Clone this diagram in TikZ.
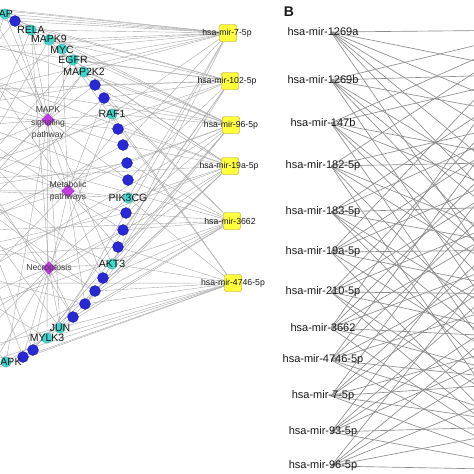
\documentclass[tikz,border=0pt]{standalone}
\usepackage{fontspec}
\setmainfont{Liberation Sans}
\usetikzlibrary{shapes.geometric}
\pgfdeclarelayer{bg}
\pgfsetlayers{bg,main}
\definecolor{nblue}{RGB}{40,40,215}
\definecolor{ncyan}{RGB}{64,214,206}
\definecolor{npurp}{RGB}{190,60,225}
\definecolor{nyell}{RGB}{255,255,60}
\definecolor{ybor}{RGB}{170,150,20}
\definecolor{ecolA}{RGB}{170,170,170}
\definecolor{ecolB}{RGB}{140,140,140}
\definecolor{txt}{RGB}{25,25,25}
\begin{document}
\begin{tikzpicture}[x=1pt,y=-1pt,
  bnode/.style={circle,fill=nblue,draw=nblue!70!black,line width=0.3pt,minimum size=11pt,inner sep=0pt},
  cnode/.style={circle,fill=ncyan,draw=ncyan!80!black,line width=0.3pt,minimum size=10.5pt,inner sep=0pt},
  pnode/.style={diamond,fill=npurp,draw=npurp!80!black,line width=0.3pt,minimum size=13pt,inner sep=0pt},
  ynode/.style={rectangle,rounded corners=2pt,fill=nyell,draw=ybor,line width=0.4pt,minimum size=17pt,inner sep=0pt},
  bsrc/.style={inner sep=0pt,minimum size=0pt},
  glbl/.style={font=\fontsize{10.5}{10.5}\selectfont,text=txt,inner sep=0pt},
  mlbl/.style={font=\fontsize{8.7}{8.7}\selectfont,text=txt,inner sep=0pt},
  plbl/.style={font=\fontsize{8.6}{12.3}\selectfont,text=txt!85!white,inner sep=0pt,align=center},
  blbl/.style={font=\fontsize{11}{11}\selectfont,text=txt,inner sep=0pt},
  ea/.style={draw=ecolA,line width=0.4pt},
  eb/.style={draw=ecolB,line width=0.65pt}]
\clip (0,0) rectangle (474,474);
% ---------- panel A: gene arc ----------
\node[cnode,label={[glbl,xshift=1pt]center:AP}] (g1) at (5,14) {};
\node[bnode] (g2) at (15,21) {};
\node[cnode,label={[glbl]center:RELA}] (g3) at (31,30) {};
\node[cnode,label={[glbl,yshift=1pt]center:MAPK9}] (g4) at (49,40) {};
\node[cnode,label={[glbl,yshift=-0.5pt]center:MYC}] (g5) at (62,49) {};
\node[cnode,label={[glbl]center:EGFR}] (g6) at (73,60) {};
\node[cnode,label={[glbl]center:MAP2K2}] (g7) at (84,72) {};
\node[bnode] (g8) at (95,85) {};
\node[bnode] (g9) at (104,98) {};
\node[cnode,label={[glbl]center:RAF1}] (g10) at (112,114) {};
\node[bnode] (g11) at (118,129) {};
\node[bnode] (g12) at (123,145) {};
\node[bnode] (g13) at (127,163) {};
\node[bnode] (g14) at (128,180) {};
\node[cnode,label={[glbl]center:PIK3CG}] (g15) at (128,198) {};
\node[bnode] (g16) at (126,213) {};
\node[bnode] (g17) at (123,230) {};
\node[bnode] (g18) at (118,247) {};
\node[cnode,label={[glbl]center:AKT3}] (g19) at (112,264) {};
\node[bnode] (g20) at (103,278) {};
\node[bnode] (g21) at (95,291) {};
\node[bnode] (g22) at (85,304) {};
\node[bnode] (g23) at (73,317) {};
\node[cnode,label={[glbl]center:JUN}] (g24) at (60,328) {};
\node[cnode,label={[glbl]center:MYLK3}] (g25) at (47,338) {};
\node[bnode] (g26) at (33,350) {};
\node[bnode] (g27) at (23,357) {};
\node[cnode,label={[glbl,xshift=5pt]center:APK}] (g28) at (6,362) {};
% off-picture genes of the circle and pathways
\foreach \i [evaluate=\i as \a using 60+15*\i] in {1,...,15}
  \coordinate (o\i) at ({-59+187*cos(\a)},{190+187*sin(\a)});
\coordinate (q1) at (-60,110);
\coordinate (q2) at (-80,260);
\coordinate (q3) at (-40,190);
% pathways
\node[pnode,label={[plbl,yshift=-3pt]center:{MAPK\\signaling\\pathway}}] (p1) at (48,120) {};
\node[pnode,label={[plbl]center:{Metabolic\\pathways}}] (p2) at (68,191) {};
\node[pnode,label={[plbl]center:Necroptosis}] (p3) at (49,268) {};
% miRNAs
\node[ynode,label={[mlbl,xshift=-1pt]center:hsa-mir-7-5p}] (m1) at (228,33) {};
\node[ynode,label={[mlbl,xshift=-3pt]center:hsa-mir-102-5p}] (m2) at (230,81) {};
\node[ynode,label={[mlbl]center:hsa-mir-96-5p}] (m3) at (231,125) {};
\node[ynode,label={[mlbl,xshift=-1pt]center:hsa-mir-19a-5p}] (m4) at (230,166) {};
\node[ynode,label={[mlbl,xshift=-2pt]center:hsa-mir-3662}] (m5) at (232,221) {};
\node[ynode,label={[mlbl]center:hsa-mir-4746-5p}] (m6) at (233,283) {};
% ---------- panel B ----------
\node[font=\bfseries\fontsize{14}{14}\selectfont,text=txt,inner sep=0pt] (B) at (289,12) {B};
\foreach \n/\y/\t in {1/32/hsa-mir-1269a,2/80/hsa-mir-1269b,3/123/hsa-mir-147b,
    4/166/hsa-mir-182-5p,5/212/hsa-mir-183-5p,6/252/hsa-mir-19a-5p,
    7/292/hsa-mir-210-5p,8/328/hsa-mir-3662,9/360/hsa-mir-4746-5p,
    10/396/hsa-mir-7-5p,11/432/hsa-mir-93-5p,12/466/hsa-mir-96-5p}
  \node[bsrc,label={[blbl,xshift=-8pt]center:\t}] (b\n) at (331,\y) {};
\foreach \i in {1,...,11}
  \coordinate (t\i) at (540,{30+44*(\i-1)});
% ---------- edges ----------
\begin{pgfonlayer}{bg}
\fill[white] (0,0) rectangle (474,474);
\foreach \s/\L in {
  m1/{g1,g2,g3,g4,g5,g6,g7,g10,g12,g15,g19,g24,o15,o14,o13,o11,o9},
  m2/{g2,g4,g6,g8,g9,g11,g14,g17,g20,g25,o14,o12,o10,o7},
  m3/{g1,g3,g5,g7,g9,g10,g13,g16,g19,g22,g26,o13,o11,o6,o4},
  m4/{g2,g6,g8,g11,g12,g15,g18,g21,g24,g27,o12,o8,o5,o3},
  m5/{g4,g9,g13,g14,g16,g17,g20,g23,g28,o10,o7,o4,o2},
  m6/{g5,g10,g15,g18,g19,g21,g22,g25,g27,o6,o3,o2,o1},
  p1/{g1,g3,g4,g6,g7,g8,g10,g12,g14,g19,g24,g25,g28,o15,o13,o11,o9,o7,o5},
  p2/{g2,g5,g9,g11,g13,g15,g16,g18,g20,g22,g26,o14,o10,o8,o6,o3},
  p3/{g3,g10,g15,g17,g19,g21,g23,g24,g27,o12,o9,o4,o2,o1},
  q1/{g2,g5,g8,g11,g14,g17,g20,g23,g26},
  q2/{g1,g4,g7,g9,g12,g16,g18,g22,g25,g28},
  q3/{g3,g6,g10,g13,g15,g19,g21,g24,g27}}
  { \foreach \t in \L \draw[ea] (\s) -- (\t); }
\foreach \s/\L in {
  b1/{t1,t2,t3,t4,t5,t6,t8},
  b2/{t1,t2,t3,t5,t6,t7,t9},
  b3/{t1,t2,t4,t5,t7,t8,t10},
  b4/{t1,t3,t4,t6,t7,t9,t11},
  b5/{t2,t3,t5,t6,t8,t9,t10},
  b6/{t1,t3,t4,t6,t7,t9,t11},
  b7/{t2,t4,t5,t7,t8,t10,t11},
  b8/{t1,t3,t5,t6,t8,t9,t11},
  b9/{t2,t4,t6,t7,t9,t10,t11},
  b10/{t3,t5,t6,t8,t9,t10,t11},
  b11/{t4,t6,t7,t8,t10,t11},
  b12/{t5,t7,t8,t9,t10,t11}}
  { \foreach \t in \L \draw[eb] (\s) -- (\t); }
\end{pgfonlayer}
\end{tikzpicture}
\end{document}
